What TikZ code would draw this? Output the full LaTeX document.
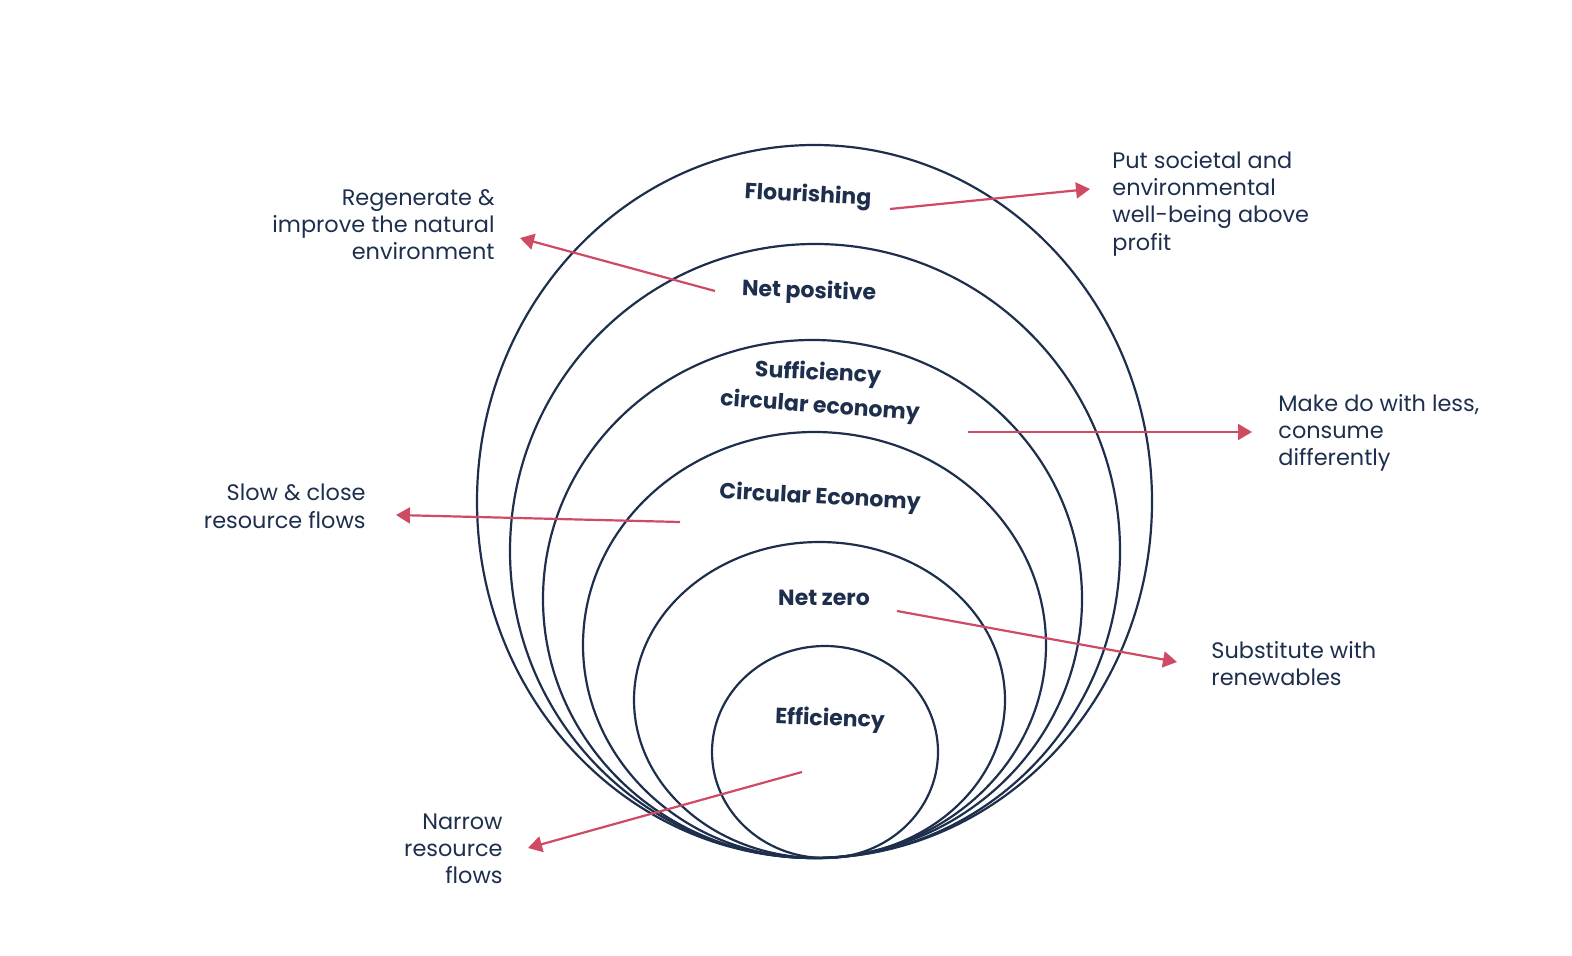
\documentclass[tikz,border=0pt]{standalone}
\usepackage{fontspec}
\setmainfont{Poppins}
\usetikzlibrary{arrows.meta}
\definecolor{navy}{HTML}{1E2F4D}
\definecolor{pink}{HTML}{CF4A63}
\begin{document}
\begin{tikzpicture}[x=0.5pt,y=-0.5pt,
  ring/.style={draw=navy,line width=1.1pt},
  lab/.style={font=\fontsize{11}{13.5}\selectfont\bfseries,text=navy,inner sep=1pt},
  note/.style={font=\fontsize{11.2}{13.6}\selectfont,text=navy,inner sep=0pt},
  arr/.style={draw=pink,line width=1.1pt,-{Triangle[length=7pt,width=8pt]}}]
\useasboundingbox (0,0) rectangle (1572,956);
\draw[ring] (814.5,501.5) ellipse [x radius=337.5, y radius=356.5];
\draw[ring] (815,551) ellipse [x radius=305, y radius=307];
\draw[ring] (812.5,599) ellipse [x radius=269.5, y radius=259];
\draw[ring] (814.5,645) ellipse [x radius=231.5, y radius=213];
\draw[ring] (819.5,700) ellipse [x radius=185.5, y radius=158];
\draw[ring] (825,752) ellipse [x radius=113, y radius=106];
\node[lab,rotate=-3] (fl) at (808,196) {Flourishing};
\node[lab,rotate=-2] (np) at (809,292) {Net positive};
\node[lab,rotate=-3] (su) at (818,374) {Sufficiency};
\node[lab,rotate=-4] (su2) at (820,407) {circular economy};
\node[lab,rotate=-3] (ce) at (820,498) {Circular Economy};
\node[lab] (nz) at (824,598) {Net zero};
\node[lab,rotate=-2] (ef) at (830,720) {Efficiency};
\node[note,anchor=north west,align=left] (t1) at (1112,151) {Put societal and\\environmental\\well-being above\\profit};
\node[note,anchor=north east,align=right] (t2) at (495,189) {Regenerate \&\\improve the natural\\environment};
\node[note,anchor=north west,align=left] (t3) at (1278,394) {Make do with less,\\consume\\differently};
\node[note,anchor=north east,align=right] (t4) at (366,484) {Slow \& close\\resource flows};
\node[note,anchor=north west,align=left] (t5) at (1211,641) {Substitute with\\renewables};
\node[note,anchor=north east,align=right] (t6) at (503,813) {Narrow\\resource\\flows};
\coordinate (a1) at (890,209); \coordinate (b1) at (1090,189);
\coordinate (a2) at (715,291); \coordinate (b2) at (520,238);
\coordinate (a3) at (968,432); \coordinate (b3) at (1252,432);
\coordinate (a4) at (680,522); \coordinate (b4) at (396,515);
\coordinate (a5) at (897,611); \coordinate (b5) at (1177,662);
\coordinate (a6) at (802,772); \coordinate (b6) at (528,848);
\foreach \i in {1,...,6} \draw[arr] (a\i) -- (b\i);
\end{tikzpicture}
\end{document}
